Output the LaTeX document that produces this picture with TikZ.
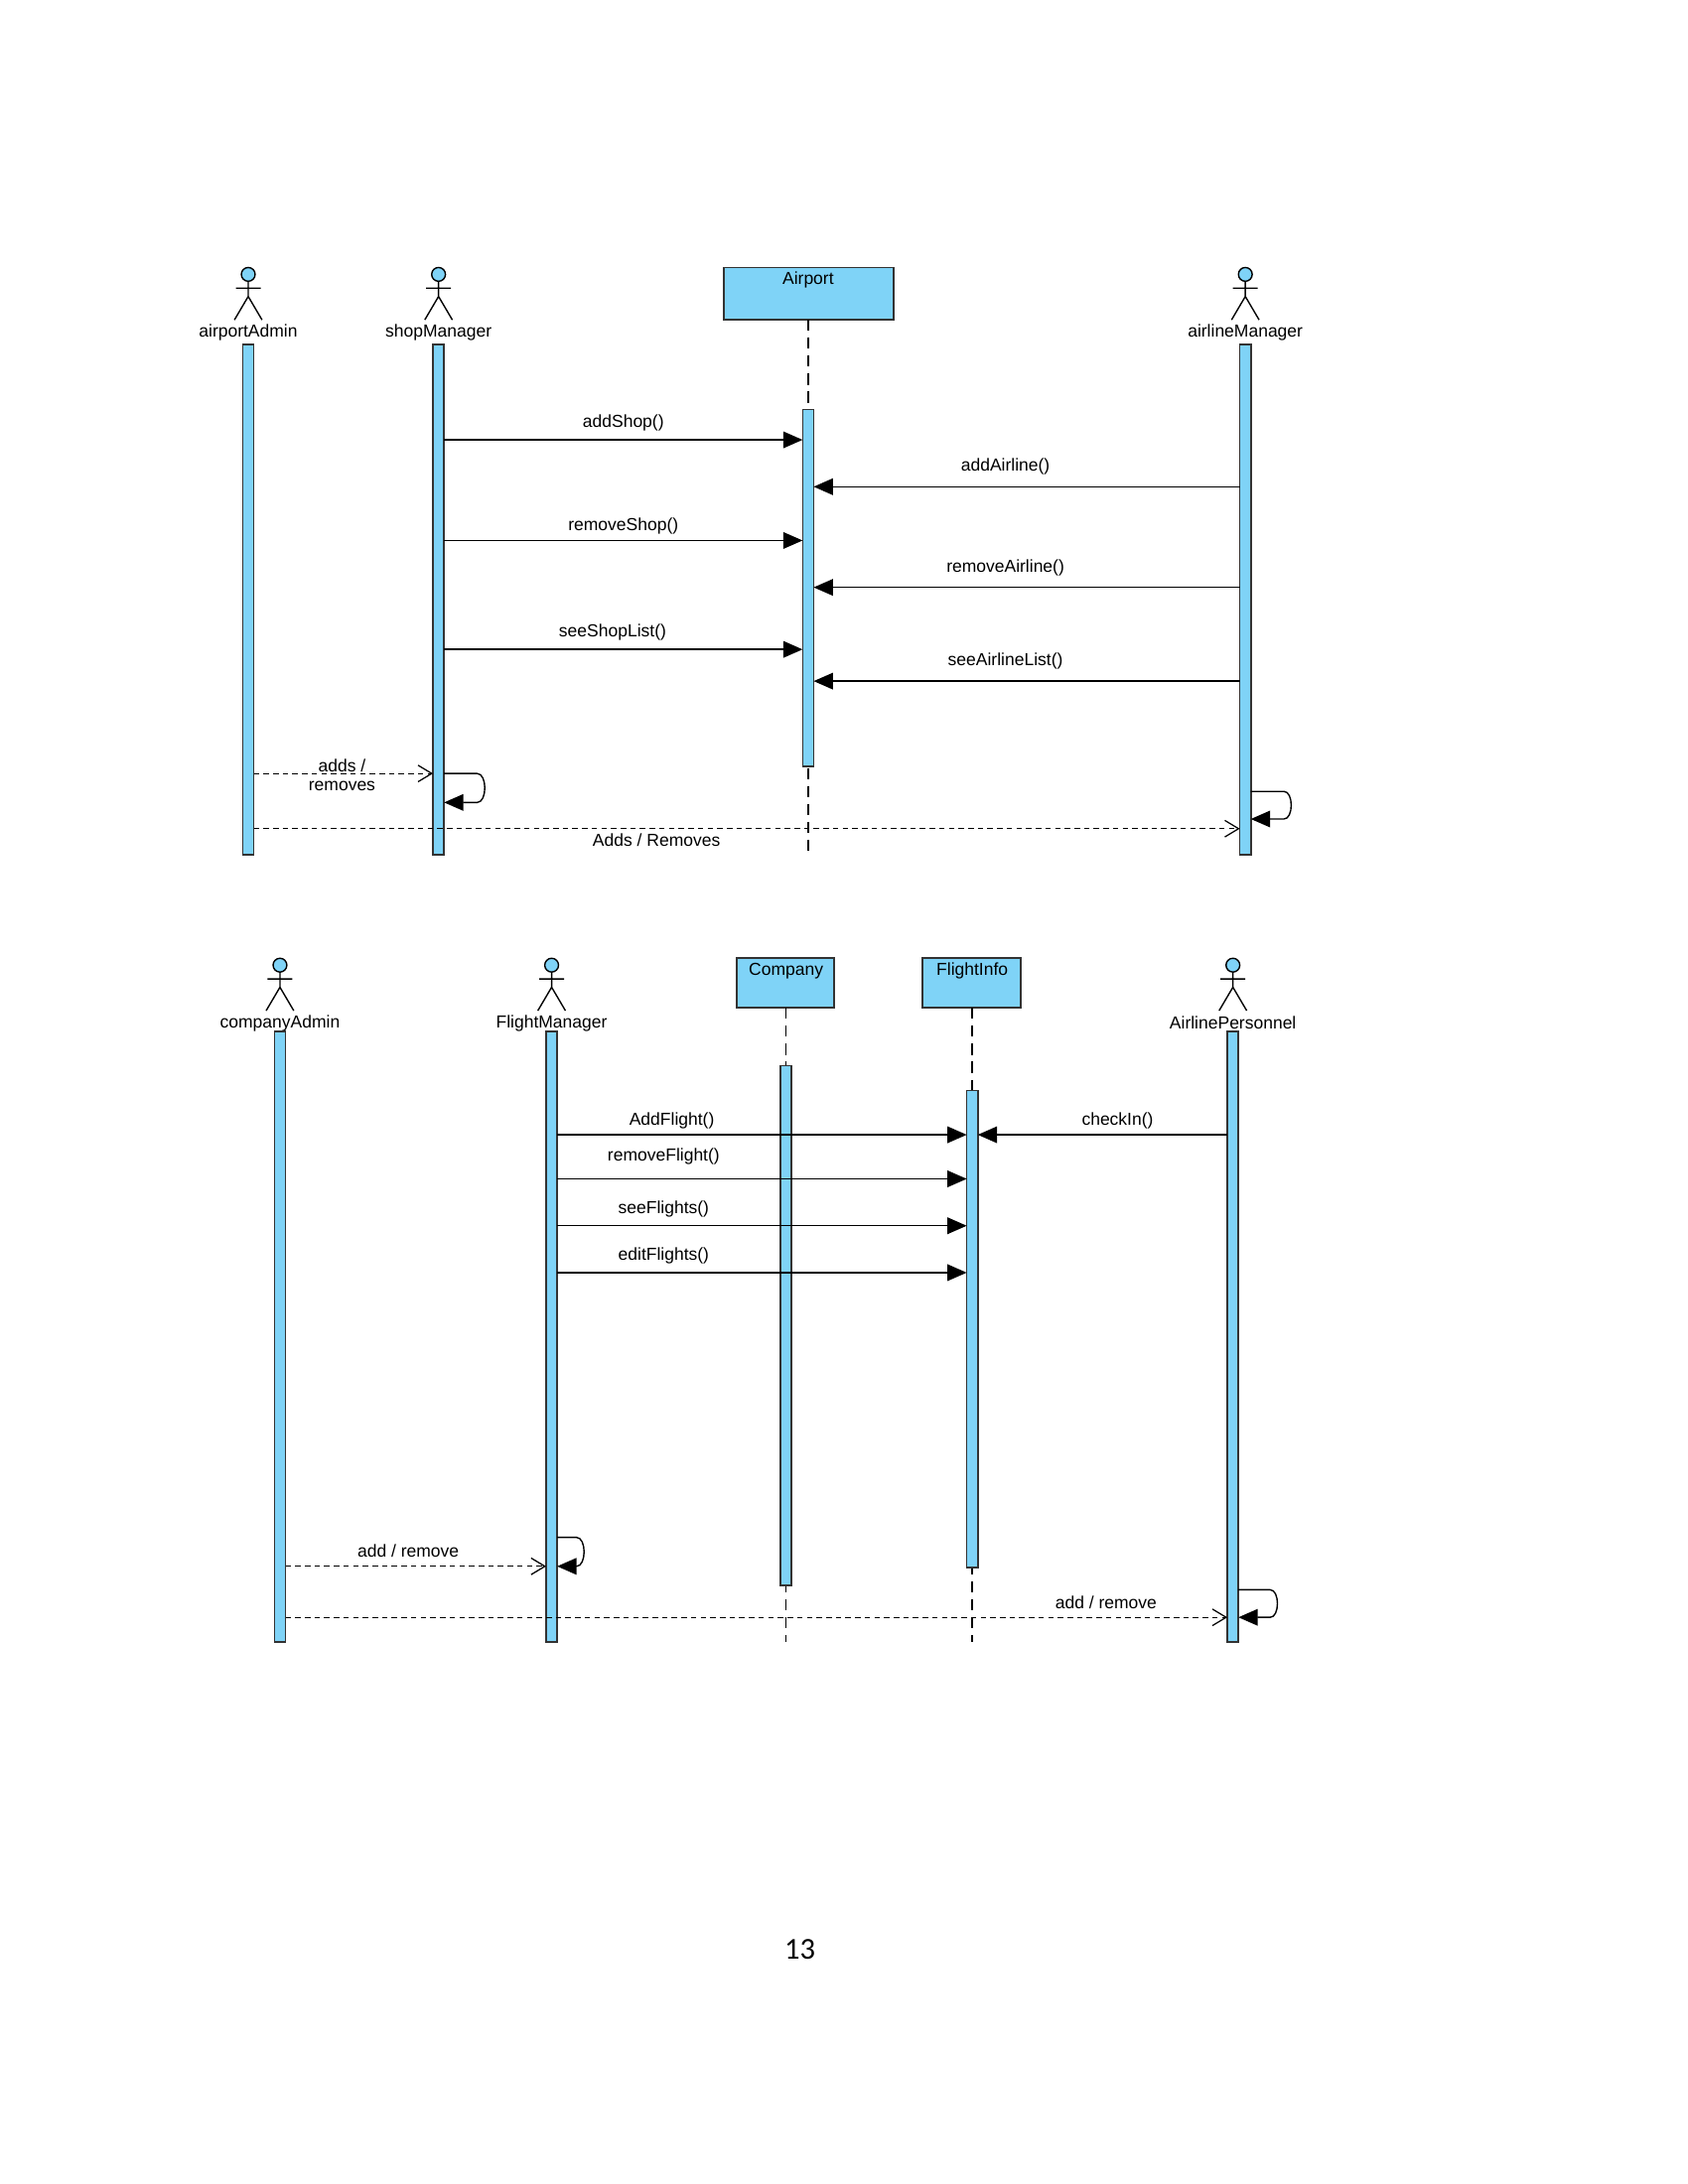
\documentclass[tikz,border=0pt]{standalone}
\usepackage{fontspec}
\setmainfont{Liberation Sans}
\newfontfamily\pagefont{Carlito}
\usetikzlibrary{arrows.meta}
\definecolor{lb}{HTML}{7FD3F7}
\tikzset{
 bar/.style={draw=black!80,fill=lb,line width=0.6pt},
 obj/.style={draw=black!80,fill=lb,line width=0.6pt},
 lbl/.style={font=\fontsize{6.3}{7}\selectfont,inner sep=1pt},
 msg/.style={-{Triangle[length=7pt,width=6pt]},line width=0.5pt},
 ret/.style={-{Straight Barb[length=5pt,width=6pt]},dashed,dash pattern=on 2pt off 1.5pt,line width=0.45pt},
 life/.style={dashed,dash pattern=on 4pt off 2.5pt,line width=0.5pt},
}
\newcommand{\actor}[4]{% name, x, y(head), label
 \draw[fill=lb,line width=0.5pt] (#2,#3) circle (5);
 \draw[line width=0.5pt] (#2,#3+5)--(#2,#3+16) (#2-9,#3+10)--(#2+9,#3+10) (#2-10,#3+33)--(#2,#3+16)--(#2+10,#3+33);
 \node[lbl] (#1) at (#2,#3+42) {#4};}
\begin{document}
\begin{tikzpicture}[x=0.5pt,y=-0.5pt]
\useasboundingbox (0,0) rectangle (1224,1584);
% ---- top
\actor{aA}{180}{199}{airportAdmin}
\actor{sM}{318}{199}{shopManager}
\actor{aM}{903}{199}{airlineManager}
\draw[bar] (176,250) rectangle (184,620);
\draw[bar] (314,250) rectangle (322,620);
\draw[bar] (899,250) rectangle (907,620);
\draw[obj] (525,194) rectangle (648,232);
\node[lbl,anchor=north] (airport) at (586,195) {Airport};
\draw[life] (586,232)--(586,618);
\draw[bar] (582,297) rectangle (590,556);
\draw[msg] (322,319)--(582,319) node[lbl,midway,above=2pt] (m1) {addShop()};
\draw[msg] (899,353)--(590,353) node[lbl,pos=0.55,above=3pt] (m2) {addAirline()};
\draw[msg] (322,392)--(582,392) node[lbl,midway,above=1pt] (m3) {removeShop()};
\draw[msg] (899,426)--(590,426) node[lbl,pos=0.55,above=3pt] (m4) {removeAirline()};
\draw[msg] (322,471)--(582,471) node[lbl,pos=0.47,above=2pt] (m5) {seeShopList()};
\draw[msg] (899,494)--(590,494) node[lbl,pos=0.55,above=3pt] (m6) {seeAirlineList()};
\draw[ret] (184,561)--(314,561);
\node[lbl,align=center] (ar) at (248,562) {adds /\\removes};
\draw[msg] (322,561)--(346,561) to[out=0,in=0,looseness=0.9] (346,582)--(322,582);
\draw[ret] (184,601)--(899,601);
\node[lbl] (AR) at (476,609) {Adds / Removes};
\draw[msg] (907,574)--(931,574) to[out=0,in=0,looseness=0.9] (931,594)--(907,594);
% ---- bottom
\actor{cA}{203}{700}{companyAdmin}
\actor{fM}{400}{700}{FlightManager}
\actor{aP}{894}{700}{AirlinePersonnel}
\draw[bar] (199,748) rectangle (207,1191);
\draw[bar] (396,748) rectangle (404,1191);
\draw[bar] (890,748) rectangle (898,1191);
\draw[obj] (534,695) rectangle (605,731);
\node[lbl,anchor=north] (company) at (570,696) {Company};
\draw[obj] (669,695) rectangle (740,731);
\node[lbl,anchor=north] (finfo) at (705,696) {FlightInfo};
\draw[life] (570,731)--(570,1191);
\draw[life] (705,731)--(705,1191);
\draw[bar] (566,773) rectangle (574,1150);
\draw[bar] (701,791) rectangle (709,1137);
\draw[msg] (404,823)--(701,823) node[lbl,pos=0.28,above=1pt] (b1) {AddFlight()};
\draw[msg] (890,823)--(709,823) node[lbl,pos=0.44,above=1pt] (b2) {checkIn()};
\draw[msg] (404,855)--(701,855) node[lbl,pos=0.26,above=4pt] (b3) {removeFlight()};
\draw[msg] (404,889)--(701,889) node[lbl,pos=0.26,above=2pt] (b4) {seeFlights()};
\draw[msg] (404,923)--(701,923) node[lbl,pos=0.26,above=2pt] (b5) {editFlights()};
\draw[ret] (207,1136)--(396,1136);
\node[lbl] (b6) at (296,1125) {add / remove};
\draw[msg] (404,1115)--(418,1115) to[out=0,in=0,looseness=0.9] (418,1136)--(404,1136);
\draw[ret] (207,1173)--(890,1173);
\node[lbl] (b7) at (802,1162) {add / remove};
\draw[msg] (898,1153)--(921,1153) to[out=0,in=0,looseness=0.9] (921,1173)--(898,1173);
\node[font=\pagefont\fontsize{11}{13}\selectfont] (pg) at (580,1414) {13};
\end{tikzpicture}
\end{document}
